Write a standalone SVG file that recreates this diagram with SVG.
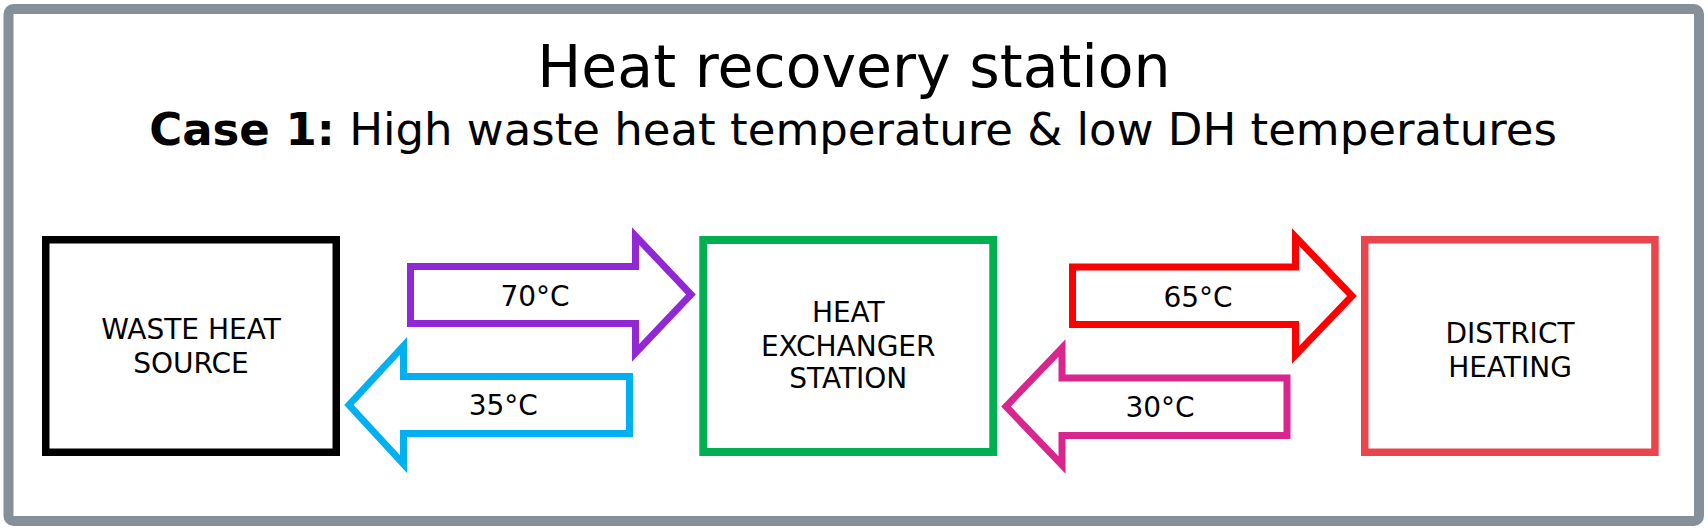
<svg xmlns="http://www.w3.org/2000/svg" width="1708" height="532" viewBox="0 0 1708 532">
<style>
text{font-family:"DejaVu Sans","Verdana",sans-serif;fill:#000;text-anchor:middle}
.node{font-size:28px}
.lbl{font-size:28px}
.arrow{fill:#fff;stroke-width:7;stroke-linejoin:miter}
.box{fill:#fff}
</style>
<rect x="0" y="0" width="1708" height="532" fill="#fff"/>
<rect id="frame" x="8.5" y="9" width="1690.5" height="512" rx="5" fill="#fff" stroke="#84909a" stroke-width="10"/>
<g id="title">
<text x="854" y="87" font-size="58.5">Heat recovery station</text>
<text x="853" y="145" font-size="45"><tspan font-weight="bold">Case 1:</tspan> High waste heat temperature &amp; low DH temperatures</text>
</g>
<g id="connectors">
<g id="arrow-70">
<path class="arrow" stroke="#9128d6" d="M410.5,266.5 H635.5 V236 L691,294.5 L635.5,353 V323.5 H410.5 Z"/>
<text class="lbl" x="535" y="305.7">70°C</text>
</g>
<g id="arrow-35">
<path class="arrow" stroke="#00b0f0" d="M629.5,376.5 H403.5 V346 L349,405 L403.5,464 V433.5 H629.5 Z"/>
<text class="lbl" x="503.3" y="415">35°C</text>
</g>
<g id="arrow-65">
<path class="arrow" stroke="#ff0000" d="M1072.5,267 H1295.5 V237 L1352,296 L1295.5,355 V324.5 H1072.5 Z"/>
<text class="lbl" x="1198" y="307">65°C</text>
</g>
<g id="arrow-30">
<path class="arrow" stroke="#d9268f" d="M1287,378 H1062 V348 L1006,406.5 L1062,465 V435.5 H1287 Z"/>
<text class="lbl" x="1160" y="417.3">30°C</text>
</g>
</g>
<g id="waste-heat-source">
<rect class="box" x="45.75" y="239.75" width="290.5" height="212.5" stroke="#000" stroke-width="7.5"/>
<text class="node" x="191" y="339">WASTE HEAT</text>
<text class="node" x="191" y="373">SOURCE</text>
</g>
<g id="heat-exchanger-station">
<rect class="box" x="703.3" y="240" width="290" height="212" stroke="#00b050" stroke-width="8"/>
<text class="node" x="848.3" y="321.7">HEAT</text>
<text class="node" x="848.3" y="355.7">EXCHANGER</text>
<text class="node" x="848.3" y="388.3">STATION</text>
</g>
<g id="district-heating">
<rect class="box" x="1364.75" y="239.75" width="290.2" height="212.5" stroke="#e8464c" stroke-width="7.5"/>
<text class="node" x="1510" y="343.3">DISTRICT</text>
<text class="node" x="1510" y="376.7">HEATING</text>
</g>
</svg>
